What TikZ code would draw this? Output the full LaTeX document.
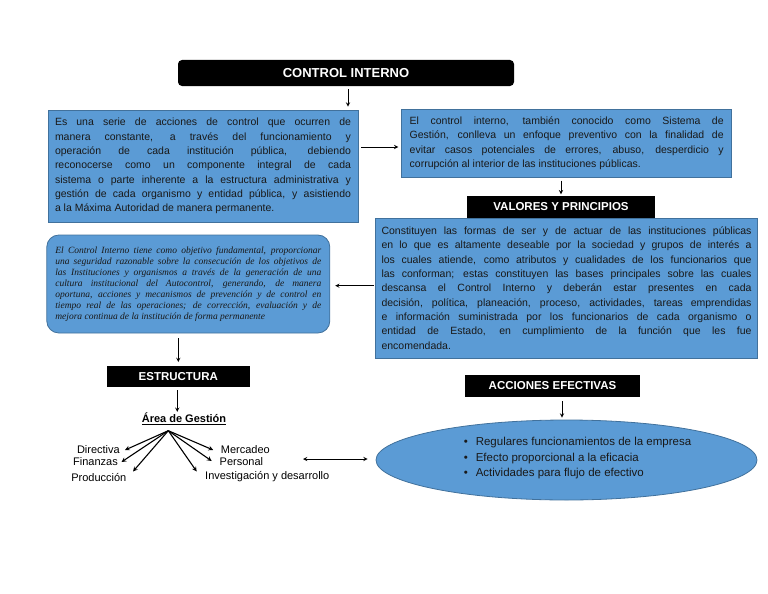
\documentclass[tikz,border=0pt]{standalone}
\usepackage{fontspec}
\setmainfont{Liberation Sans}
\newfontfamily\timesfont{Liberation Serif}
\usetikzlibrary{shapes,calc,positioning}
\definecolor{boxblue}{HTML}{5B9BD5}
\definecolor{boxline}{HTML}{41719C}

\begin{document}
\begin{tikzpicture}[>=latex, x=1pt, y=-1pt]
  \tikzset{>=stealth}
  \newcommand\BoxFont{\fontsize{10.5}{14.3}\selectfont\tolerance=9999\relax\hbadness=10000\relax}
  \newcommand\NoteFont{\timesfont\itshape\fontsize{9.5}{11}\selectfont\tolerance=9999\relax\hbadness=10000\relax}
  \tikzset{
    bluebox/.style={draw=boxline, fill=boxblue, line width=0.8pt, inner sep=0pt,
      text=black!90, font=\BoxFont, align=justify},
    blackbar/.style={fill=black, text=white, inner sep=0pt,
      font=\bfseries\fontsize{11.5}{13}\selectfont},
    item/.style={inner sep=0pt, font=\fontsize{11}{13}\selectfont},
    link/.style={->, line width=0.9pt},
    branch/.style={->, line width=1.1pt}
  }
  % page frame, same size as the reference
  \useasboundingbox (0,0) rectangle (768,594);

  % titles in black bars
  \node[blackbar, rounded corners=4pt, minimum width=336pt, minimum height=26pt,
    font=\bfseries\fontsize{13}{15}\selectfont] (control) at (346,73) {CONTROL INTERNO};
  \node[blackbar, minimum width=188pt, minimum height=22pt] (valores) at (561,206.5) {VALORES Y PRINCIPIOS};
  \node[blackbar, minimum width=143pt, minimum height=21pt] (estructura) at (178.3,376.7) {ESTRUCTURA};
  \node[blackbar, minimum width=175pt, minimum height=22pt] (acciones) at (552.5,386) {ACCIONES EFECTIVAS};

  % blue text boxes
  \node[bluebox, minimum width=310pt, minimum height=112pt, text width=296pt] (serie) at (203,166)
    {Es una serie de acciones de control que ocurren de\linebreak
     manera constante, a través del funcionamiento y\linebreak
     operación de cada institución pública, debiendo\linebreak
     reconocerse como un componente integral de cada\linebreak
     sistema o parte inherente a la estructura administrativa y\linebreak
     gestión de cada organismo y entidad pública, y asistiendo\linebreak
     a la Máxima Autoridad de manera permanente.};
  \node[bluebox, minimum width=330pt, minimum height=68pt, text width=314pt] (sistema) at (566.7,143.3)
    {El control interno, también conocido como Sistema de\linebreak
     Gestión, conlleva un enfoque preventivo con la finalidad de\linebreak
     evitar casos potenciales de errores, abuso, desperdicio y\linebreak
     corrupción al interior de las instituciones públicas.};
  \node[bluebox, minimum width=382pt, minimum height=140pt, text width=370pt] (formas) at (566.5,288)
    {Constituyen las formas de ser y de actuar de las instituciones públicas\linebreak
     en lo que es altamente deseable por la sociedad y grupos de interés a\linebreak
     los cuales atiende, como atributos y cualidades de los funcionarios que\linebreak
     las conforman; estas constituyen las bases principales sobre las cuales\linebreak
     descansa el Control Interno y deberán estar presentes en cada\linebreak
     decisión, política, planeación, proceso, actividades, tareas emprendidas\linebreak
     e información suministrada por los funcionarios de cada organismo o\linebreak
     entidad de Estado, en cumplimiento de la función que les fue\linebreak
     encomendada.};
  \node[bluebox, rounded corners=12pt, minimum width=283pt, minimum height=98pt, text width=266pt,
    font=\NoteFont] (objetivo) at (188.3,284)
    {El Control Interno tiene como objetivo fundamental, proporcionar\linebreak
     una seguridad razonable sobre la consecución de los objetivos de\linebreak
     las Instituciones y organismos a través de la generación de una\linebreak
     cultura institucional del Autocontrol, generando, de manera\linebreak
     oportuna, acciones y mecanismos de prevención y de control en\linebreak
     tiempo real de las operaciones; de corrección, evaluación y de\linebreak
     mejora continua de la institución de forma permanente};

  % ellipse with the effective actions
  \node[ellipse, draw=boxline, fill=boxblue, line width=0.8pt, minimum width=381pt, minimum height=80pt] (efectivas) at (566.5,460) {};
  \node[item, align=left, text=black!90, font=\fontsize{11.5}{15.5}\selectfont] (lista) at (577.5,458.3)
    {\textbullet\hspace{8pt}Regulares funcionamientos de la empresa\\
     \textbullet\hspace{8pt}Efecto proporcional a la eficacia\\
     \textbullet\hspace{8pt}Actividades para flujo de efectivo};

  % areas of the structure
  \node[item, font=\bfseries\fontsize{11}{13}\selectfont] (area) at (184,419) {\underline{Área de Gestión}};
  \coordinate (hub) at (168.3,430.7);
  \node[item, anchor=east] (directiva) at (120,449.5) {Directiva};
  \node[item, anchor=east] (finanzas) at (118,462) {Finanzas};
  \node[item, anchor=east] (produccion) at (126.5,477) {Producción};
  \node[item, anchor=west] (mercadeo) at (220.7,449.5) {Mercadeo};
  \node[item, anchor=west] (personal) at (219.5,461.5) {Personal};
  \node[item, anchor=west] (investigacion) at (205,477) {Investigación y desarrollo};
  \coordinate (enlace) at (303,459);

  % connectors
  \draw[link, shorten <=3pt, shorten >=3pt] ([xshift=2pt]control.south) -- ([xshift=2pt]control.south |- serie.north);
  \draw[link, shorten <=3pt, shorten >=3pt] ([yshift=19pt]serie.east) -- ([yshift=19pt]serie.east -| sistema.west);
  \draw[link, shorten <=3pt, shorten >=1pt] (sistema.south -| valores.north) -- (valores.north);
  \draw[link, shorten <=1pt, shorten >=5pt] ([yshift=2.3pt]formas.west) -- ([yshift=2.3pt]formas.west -| objetivo.east);
  \draw[link, shorten <=5pt, shorten >=4pt] (objetivo.south -| estructura.north) -- (estructura.north);
  \draw[link, shorten <=3pt, shorten >=1pt] ([xshift=-1pt]estructura.south) -- ([xshift=-1pt]estructura.south |- area.north);
  \draw[link, shorten <=4pt, shorten >=2pt] ([xshift=9.5pt]acciones.south) -- ([xshift=9.5pt]acciones.south |- efectivas.north);
  \draw[link, <->, shorten >=8pt] (enlace) -- (enlace -| efectivas.west);

  \draw[branch] (hub) -- ($(directiva.east)+(5,0.5)$);
  \draw[branch] (hub) -- ($(finanzas.east)+(3.5,0)$);
  \draw[branch] (hub) -- ($(produccion.east)+(6.5,-5.5)$);
  \draw[branch] (hub) -- ($(mercadeo.west)+(-7.5,0.5)$);
  \draw[branch] (hub) -- ($(personal.west)+(-7.8,-0.5)$);
  \draw[branch] (hub) -- ($(investigacion.west)+(-8.3,-5.5)$);
\end{tikzpicture}
\end{document}
